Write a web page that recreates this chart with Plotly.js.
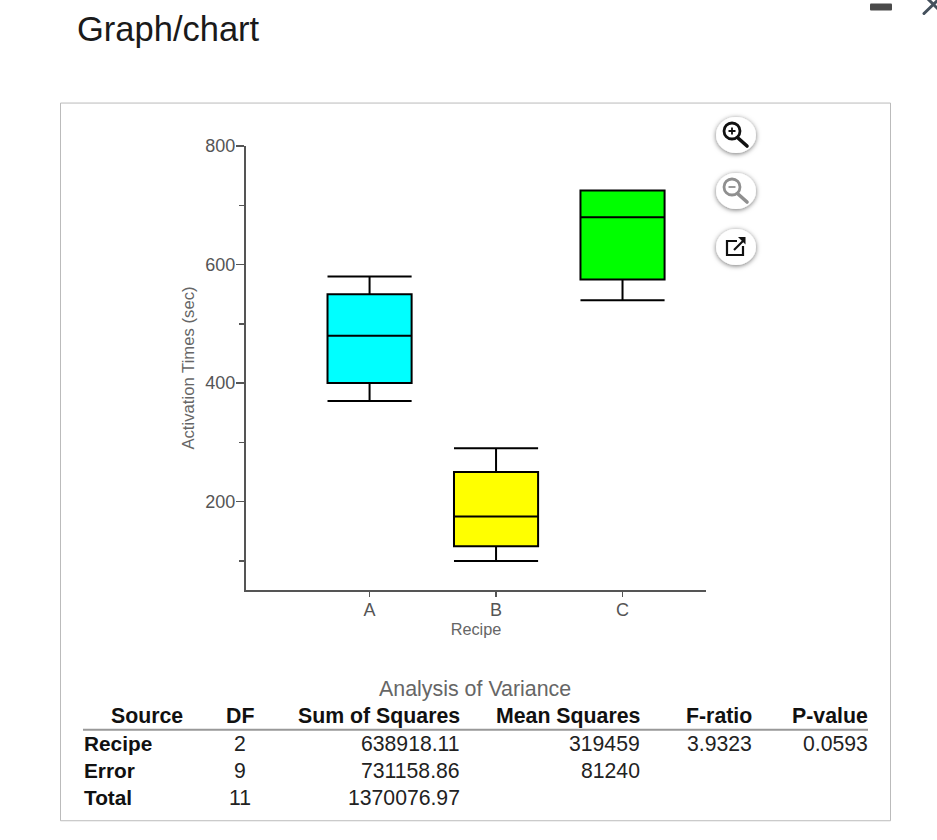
<!DOCTYPE html>
<html>
<head>
<meta charset="utf-8">
<script src="https://cdn.plot.ly/plotly-3.0.1.min.js"></script>
<style>
html,body{margin:0;padding:0;background:#fff;overflow:hidden}
#wrap{position:relative;width:937px;height:840px}
#chart{position:absolute;left:0;top:0;width:937px;height:840px}
#chrome{position:absolute;left:0;top:0;pointer-events:none}
</style>
</head>
<body>
<div id="wrap">
<div id="chart"></div>
<svg id="chrome" width="937" height="840" xmlns="http://www.w3.org/2000/svg">
  <defs><filter id="sh" x="-40%" y="-40%" width="180%" height="180%"><feDropShadow dx="0" dy="1" stdDeviation="2.5" flood-color="#000" flood-opacity="0.55"/></filter></defs>
  <rect x="870" y="3.5" width="22" height="7" rx="1" fill="#4a4a4a"/>
  <path d="M924 13.5 L940 -2 M926 -3 L940 11" stroke="#44505c" stroke-width="3" stroke-linecap="round" fill="none"/>
  <ellipse cx="736" cy="135" rx="20" ry="18" fill="#fff" filter="url(#sh)"/>
  <ellipse cx="736" cy="191" rx="20" ry="18" fill="#fff" filter="url(#sh)"/>
  <ellipse cx="736" cy="247" rx="20" ry="18" fill="#fff" filter="url(#sh)"/>
  <g fill="none" stroke="#111" stroke-width="2.8">
    <circle cx="732" cy="131" r="8"/>
    <path d="M738 138 L747 146" stroke-width="3.6" stroke-linecap="round"/>
    <path d="M728.5 131 H735.5 M732 127.5 V134.5" stroke-width="1.8"/>
  </g>
  <g fill="none" stroke="#8f8f8f" stroke-width="2.8">
    <circle cx="732" cy="187" r="8"/>
    <path d="M738 194 L747 202" stroke-width="3.6" stroke-linecap="round"/>
    <path d="M728.5 187 H735.5" stroke-width="1.8"/>
  </g>
  <g fill="none" stroke="#111" stroke-width="2.2">
    <path d="M737 241 H727 V255 H743 V246"/>
    <path d="M734 250 L743 241" stroke-width="2.2"/>
    <path d="M738 237 H745.5 V244.5 Z" fill="#111" stroke="none"/>
  </g>
</svg>
</div>
<script>
var categories = ['A', 'B', 'C'];
var lowerWhisker = [370, 100, 540];
var quartile1 = [400, 125, 575];
var medians = [480, 175, 680];
var quartile3 = [550, 250, 725];
var upperWhisker = [580, 290, 725];
var boxColors = ['#00ffff', '#ffff00', '#00ff00'];

var tableHeaders = ['Source', 'DF', 'Sum of Squares', 'Mean Squares', 'F-ratio', 'P-value'];
var rowSources = ['Recipe', 'Error', 'Total'];
var rowDF = ['2', '9', '11'];
var rowSS = ['638918.11', '731158.86', '1370076.97'];
var rowMS = ['319459', '81240', ''];
var rowF = ['3.9323', '', ''];
var rowP = ['0.0593', '', ''];

var FONT = 'Liberation Sans, Arial, sans-serif';
var L = 246, R = 706, T = 145.5, B = 590;
function px(x){ return (x - L) / (R - L); }
function py(y){ return 1 - (y - T) / (B - T); }

var traces = categories.map(function(c, i){
  return {
    type: 'box', x: [c], q1: [quartile1[i]], median: [medians[i]], q3: [quartile3[i]],
    lowerfence: [lowerWhisker[i]], upperfence: [upperWhisker[i]],
    fillcolor: boxColors[i], line: {color: '#000', width: 2},
    width: 0.665, whiskerwidth: 1, boxpoints: false, showlegend: false, hoverinfo: 'skip'
  };
});

var anns = [];
function txt(s, x, y, anchor, size, color, bold){
  if (!s) return;
  anns.push({text: bold ? '<b>' + s + '</b>' : s, xref: 'paper', yref: 'paper', x: px(x), y: py(y),
    xanchor: anchor, yanchor: 'middle', showarrow: false,
    font: {family: FONT, size: size, color: color}, borderpad: 0, borderwidth: 0});
}
txt('Analysis of Variance', 475, 689, 'center', 21.4, '#666', false);
var colX = [146.5, 240, 460, 640, 752, 868];
var colA = ['center', 'center', 'right', 'right', 'right', 'right'];
tableHeaders.forEach(function(h, i){ txt(h, colX[i], 716, colA[i], 21.3, '#111', true); });
var rowY = [744, 771, 798];
rowSources.forEach(function(s, r){
  txt(s, 84, rowY[r], 'left', 20.8, '#111', true);
  txt(rowDF[r], colX[1], rowY[r], 'center', 21.2, '#222', false);
  txt(rowSS[r], colX[2], rowY[r], 'right', 21.2, '#222', false);
  txt(rowMS[r], colX[3], rowY[r], 'right', 21.2, '#222', false);
  txt(rowF[r], colX[4], rowY[r], 'right', 21.2, '#222', false);
  txt(rowP[r], colX[5], rowY[r], 'right', 21.2, '#222', false);
});

var layout = {
  width: 937, height: 840,
  margin: {l: L, r: 937 - R, t: T, b: 840 - B, pad: 0},
  paper_bgcolor: '#fff', plot_bgcolor: '#fff',
  font: {family: FONT},
  title: {text: 'Graph/chart', x: 77 / 937, xanchor: 'left', xref: 'container',
          y: 1 - 29 / 840, yref: 'container', yanchor: 'middle',
          font: {family: FONT, size: 34.5, color: '#1a1a1a'}},
  showlegend: false,
  xaxis: {
    type: 'category', range: [-0.977, 2.66], fixedrange: true, showgrid: false, zeroline: false,
    showline: true, linecolor: '#555', linewidth: 2, ticks: 'outside', ticklen: 5, tickcolor: '#555', tickwidth: 1.5,
    ticklabelstandoff: -3,
    tickfont: {family: FONT, size: 18, color: '#555'},
    title: {text: 'Recipe', standoff: 4, font: {family: FONT, size: 16.3, color: '#666'}}
  },
  yaxis: {
    range: [51, 800], tick0: 0, dtick: 200, fixedrange: true, showgrid: false, zeroline: false,
    showline: true, linecolor: '#555', linewidth: 2, ticks: 'outside', ticklen: 8, tickcolor: '#555', tickwidth: 1.5,
    ticklabelstandoff: -3,
    tickfont: {family: FONT, size: 18, color: '#555'},
    minor: {dtick: 100, tick0: 0, ticks: 'outside', ticklen: 5, tickcolor: '#555', tickwidth: 1.5, showgrid: false},
    title: {text: 'Activation Times (sec)', standoff: 7, font: {family: FONT, size: 16.7, color: '#666'}}
  },
  annotations: anns,
  shapes: [
    {type: 'rect', xref: 'paper', yref: 'paper', x0: px(60.5), x1: px(890.5), y0: py(821), y1: py(102.5),
     line: {color: '#bbb', width: 1}, fillcolor: 'rgba(0,0,0,0)', layer: 'below'},
    {type: 'line', xref: 'paper', yref: 'paper', x0: px(83), x1: px(868), y0: py(730), y1: py(730),
     line: {color: '#999', width: 2}}
  ]
};
Plotly.newPlot('chart', traces, layout, {displayModeBar: false, staticPlot: true});
</script>
</body>
</html>
